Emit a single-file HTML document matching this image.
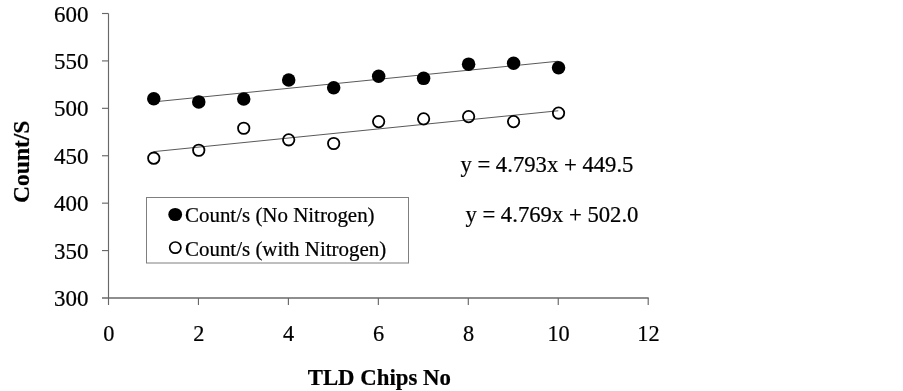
<!DOCTYPE html>
<html><head><meta charset="utf-8"><title>TLD Chips chart</title>
<style>
html,body{margin:0;padding:0;background:#fff;}
body{width:903px;height:391px;overflow:hidden;}
svg{display:block;font-family:"Liberation Serif",serif;}
text{fill:#000;stroke:#000;stroke-width:0.22px;}
</style></head><body>
<svg width="903" height="391" viewBox="0 0 903 391">
<rect width="903" height="391" fill="#fff"/>

<g stroke="#686868" stroke-width="1.15" fill="none">
<line x1="108.5" y1="13.5" x2="108.5" y2="297.99"/>
<line x1="102.0" y1="297.99" x2="648.7" y2="297.99" stroke-width="1.35"/>
<line x1="102.0" y1="250.58" x2="108.5" y2="250.58"/>
<line x1="102.0" y1="203.16" x2="108.5" y2="203.16"/>
<line x1="102.0" y1="155.75" x2="108.5" y2="155.75"/>
<line x1="102.0" y1="108.33" x2="108.5" y2="108.33"/>
<line x1="102.0" y1="60.91" x2="108.5" y2="60.91"/>
<line x1="102.0" y1="13.50" x2="108.5" y2="13.50"/>
<line x1="108.50" y1="297.99" x2="108.50" y2="304.99"/>
<line x1="198.45" y1="297.99" x2="198.45" y2="304.99"/>
<line x1="288.40" y1="297.99" x2="288.40" y2="304.99"/>
<line x1="378.35" y1="297.99" x2="378.35" y2="304.99"/>
<line x1="468.30" y1="297.99" x2="468.30" y2="304.99"/>
<line x1="558.25" y1="297.99" x2="558.25" y2="304.99"/>
<line x1="648.20" y1="297.99" x2="648.20" y2="304.99"/>
</g>
<g font-size="23" text-anchor="end">
<text transform="translate(88.4,306.09) scale(1,1.025)">300</text>
<text transform="translate(88.4,258.68) scale(1,1.025)">350</text>
<text transform="translate(88.4,211.26) scale(1,1.025)">400</text>
<text transform="translate(88.4,163.84) scale(1,1.025)">450</text>
<text transform="translate(88.4,116.43) scale(1,1.025)">500</text>
<text transform="translate(88.4,69.02) scale(1,1.025)">550</text>
<text transform="translate(88.4,21.60) scale(1,1.025)">600</text>
</g>
<g font-size="23" text-anchor="middle">
<text transform="translate(108.80,340.7) scale(0.97,1.04)">0</text>
<text transform="translate(198.75,340.7) scale(0.97,1.04)">2</text>
<text transform="translate(288.70,340.7) scale(0.97,1.04)">4</text>
<text transform="translate(378.65,340.7) scale(0.97,1.04)">6</text>
<text transform="translate(468.60,340.7) scale(0.97,1.04)">8</text>
<text transform="translate(558.55,340.7) scale(0.97,1.04)">10</text>
<text transform="translate(648.50,340.7) scale(0.97,1.04)">12</text>
</g>
<g stroke="#505050" stroke-width="0.95" fill="none">
<line x1="153.47" y1="101.91" x2="558.25" y2="61.21"/>
<line x1="153.47" y1="151.67" x2="558.25" y2="110.77"/>
</g>
<g fill="#000">
<circle cx="153.78" cy="98.85" r="6.75"/>
<circle cx="198.75" cy="101.88" r="6.75"/>
<circle cx="243.73" cy="98.94" r="6.75"/>
<circle cx="288.70" cy="79.98" r="6.75"/>
<circle cx="333.68" cy="87.85" r="6.75"/>
<circle cx="378.65" cy="76.18" r="6.75"/>
<circle cx="423.62" cy="78.36" r="6.75"/>
<circle cx="468.60" cy="64.14" r="6.75"/>
<circle cx="513.58" cy="63.29" r="6.75"/>
<circle cx="558.55" cy="67.65" r="6.75"/>
</g>
<g fill="none" stroke="#000" stroke-width="1.8">
<circle cx="153.78" cy="158.21" r="5.7"/>
<circle cx="198.75" cy="150.24" r="5.7"/>
<circle cx="243.73" cy="128.24" r="5.7"/>
<circle cx="288.70" cy="139.81" r="5.7"/>
<circle cx="333.68" cy="143.51" r="5.7"/>
<circle cx="378.65" cy="121.61" r="5.7"/>
<circle cx="423.62" cy="118.86" r="5.7"/>
<circle cx="468.60" cy="116.58" r="5.7"/>
<circle cx="513.58" cy="121.61" r="5.7"/>
<circle cx="558.55" cy="113.07" r="5.7"/>
</g>
<text x="460.4" y="172" font-size="22.7">y = 4.793x + 449.5</text>
<text x="465.4" y="221.7" font-size="22.7">y = 4.769x + 502.0</text>
<rect x="146.5" y="197.5" width="262" height="65.5" fill="#fff" stroke="#7f7f7f" stroke-width="1"/>
<ellipse cx="175.2" cy="214.5" rx="6.9" ry="6.6" fill="#000"/>
<circle cx="175.3" cy="247.6" r="5.6" fill="none" stroke="#000" stroke-width="1.7"/>
<text x="185" y="222.2" font-size="20.95">Count/s (No Nitrogen)</text>
<text x="185" y="255.6" font-size="20.95">Count/s (with Nitrogen)</text>
<text x="307.7" y="385" font-size="22.8" font-weight="bold">TLD Chips No</text>
<text transform="translate(28.8,202.9) rotate(-90)" font-size="23.5" font-weight="bold">Count/S</text>
</svg></body></html>
